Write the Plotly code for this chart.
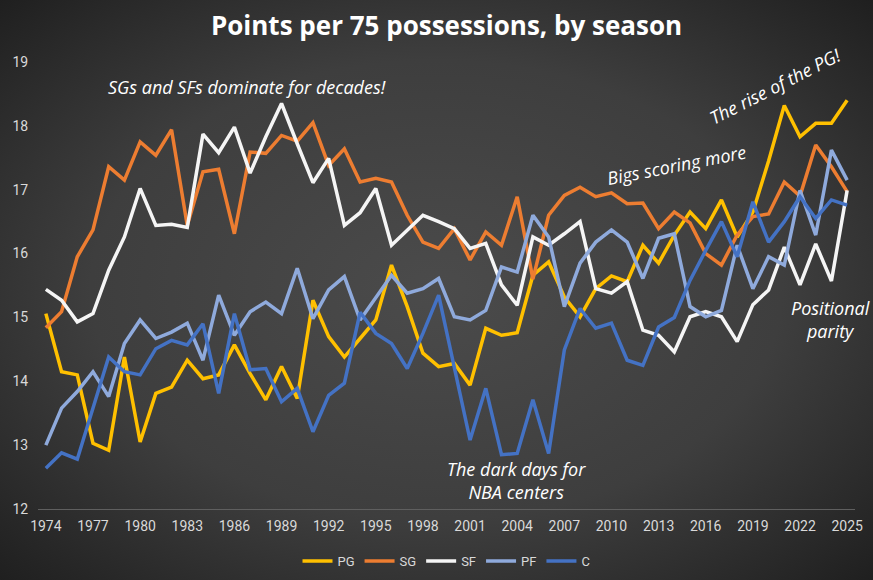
import base64
import plotly.graph_objects as go

seasons = list(range(1974, 2026))
tick_years = list(range(1974, 2026, 3))

pg = [15.06, 14.15, 14.10, 13.03, 12.92, 14.38, 13.05, 13.81, 13.91, 14.33,
      14.04, 14.10, 14.57, 14.12, 13.71, 14.23, 13.73, 15.27, 14.70, 14.38,
      14.67, 14.96, 15.82, 15.17, 14.44, 14.23, 14.28, 13.94, 14.83, 14.72,
      14.76, 15.66, 15.87, 15.32, 15.01, 15.45, 15.65, 15.56, 16.13, 15.85,
      16.29, 16.65, 16.39, 16.84, 16.26, 16.65, 17.45, 18.32, 17.83, 18.04,
      18.04, 18.40]
sg = [14.84, 15.09, 15.95, 16.37, 17.36, 17.15, 17.75, 17.54, 17.94, 16.44,
      17.28, 17.32, 16.31, 17.59, 17.57, 17.85, 17.76, 18.05, 17.38, 17.64,
      17.12, 17.18, 17.12, 16.60, 16.18, 16.08, 16.39, 15.90, 16.34, 16.13,
      16.89, 15.60, 16.60, 16.91, 17.04, 16.89, 16.95, 16.78, 16.79, 16.39,
      16.65, 16.48, 16.00, 15.82, 16.29, 16.58, 16.62, 17.12, 16.90, 17.70,
      17.36, 16.97]
sf = [15.44, 15.27, 14.93, 15.06, 15.74, 16.26, 17.02, 16.44, 16.46, 16.41,
      17.87, 17.58, 17.98, 17.26, 17.83, 18.35, 17.72, 17.11, 17.49, 16.44,
      16.64, 17.02, 16.13, 16.37, 16.60, 16.50, 16.39, 16.08, 16.16, 15.51,
      15.19, 16.26, 16.13, 16.31, 16.50, 15.45, 15.38, 15.56, 14.80, 14.72,
      14.46, 15.01, 15.09, 15.01, 14.62, 15.20, 15.43, 16.10, 15.51, 16.15,
      15.57, 16.99]
pf = [13.00, 13.58, 13.84, 14.15, 13.76, 14.59, 14.96, 14.67, 14.77, 14.91,
      14.33, 15.35, 14.72, 15.09, 15.24, 15.06, 15.77, 14.98, 15.43, 15.64,
      14.96, 15.30, 15.66, 15.38, 15.45, 15.61, 15.01, 14.96, 15.11, 15.79,
      15.71, 16.60, 16.26, 15.17, 15.85, 16.18, 16.37, 16.18, 15.61, 16.24,
      16.31, 15.17, 15.01, 15.11, 16.13, 15.45, 15.95, 15.82, 16.99, 16.29,
      17.62, 17.15]
c = [12.64, 12.88, 12.78, 13.58, 14.38, 14.15, 14.10, 14.51, 14.64, 14.57,
     14.90, 13.81, 15.06, 14.18, 14.20, 13.68, 13.89, 13.21, 13.78, 13.97,
     15.08, 14.75, 14.59, 14.20, 14.75, 15.35, 14.23, 13.08, 13.89, 12.85,
     12.87, 13.71, 12.87, 14.49, 15.14, 14.83, 14.91, 14.33, 14.25, 14.85,
     15.00, 15.58, 16.05, 16.50, 15.95, 16.81, 16.18, 16.50, 16.89, 16.55,
     16.84, 16.76]

series_names = ["PG", "SG", "SF", "PF", "C"]
series_values = [pg, sg, sf, pf, c]
series_colors = ["#FFC000", "#ED7D31", "#F5F5F5", "#8FAADC", "#4472C4"]

W, H = 873, 580
ML, MR, MT, MB = 38, 18, 62, 71
PW, PH = W - ML - MR, H - MT - MB

fig = go.Figure()
for name, vals, col in zip(series_names, series_values, series_colors):
    fig.add_trace(go.Scatter(x=seasons, y=vals, name=name, mode="lines",
                             line=dict(color=col, width=3.5)))

# radial gradient background
svg = ("<svg xmlns='http://www.w3.org/2000/svg' width='873' height='580'>"
       "<defs><radialGradient id='g' cx='50%' cy='50%' r='72%'>"
       "<stop offset='0' stop-color='#4b4b4b'/><stop offset='0.55' stop-color='#3e3e3e'/>"
       "<stop offset='1' stop-color='#1e1e1e'/></radialGradient></defs>"
       "<rect width='873' height='580' fill='url(#g)'/></svg>")
src = "data:image/svg+xml;base64," + base64.b64encode(svg.encode()).decode()
fig.add_layout_image(dict(source=src, xref="paper", yref="paper",
                          x=-ML / PW, y=1 + MT / PH, sizex=W / PW, sizey=H / PH,
                          xanchor="left", yanchor="top", sizing="stretch", layer="below"))


def px(x, y):
    return (x - ML) / PW, (H - MB - y) / PH


ann_font = dict(family="Open Sans, DejaVu Sans", size=18, color="#FFFFFF")
notes = [
    ("<i>SGs and SFs dominate for decades!</i>", 247, 87, 0),
    ("<i>The rise of the PG!</i>", 775, 86, -27),
    ("<i>Bigs scoring more</i>", 676, 165, -11),
    ("<i>The dark days for<br>NBA centers</i>", 516, 480, 0),
    ("<i>Positional<br>parity</i>", 830, 319, 0),
]
for text, x, y, ang in notes:
    xp, yp = px(x, y)
    fig.add_annotation(text=text, x=xp, y=yp, xref="paper", yref="paper",
                       showarrow=False, textangle=ang, font=ann_font,
                       xanchor="center", yanchor="middle", align="center")

tick_font = dict(family="Liberation Sans Narrow, Arial Narrow, Roboto", size=14, color="#D9D9D9")

fig.update_layout(
    width=W, height=H,
    margin=dict(l=ML, r=MR, t=MT, b=MB, autoexpand=False),
    paper_bgcolor="#353535",
    plot_bgcolor="rgba(0,0,0,0)",
    title=dict(text="<b>Points per 75 possessions, by season</b>",
               x=0.5, xref="paper", xanchor="center", y=1 - 26 / H, yanchor="middle",
               font=dict(family="Open Sans, DejaVu Sans", size=26, color="#FFFFFF")),
    showlegend=True,
    legend=dict(orientation="h", x=0.5, xanchor="center", yref="container", y=1 - 561 / H,
                yanchor="middle", font=dict(family="Liberation Sans Narrow, Arial Narrow, Roboto",
                                            size=13, color="#D9D9D9"),
                bgcolor="rgba(0,0,0,0)", itemwidth=30, tracegroupgap=0),
    xaxis=dict(range=[1973.5, 2025.5], tickvals=tick_years, ticktext=[str(t) for t in tick_years],
               showgrid=False, zeroline=False, showline=True, linecolor="#5f5f5f", linewidth=1,
               automargin=False,
               ticks="outside", ticklen=4, tickcolor="rgba(0,0,0,0)", tickfont=tick_font),
    yaxis=dict(range=[12, 19], dtick=1, showgrid=False, zeroline=False, showline=False,
               automargin=False,
               ticks="outside", ticklen=6, tickcolor="rgba(0,0,0,0)", tickfont=tick_font),
)

fig.write_html("out.html")
